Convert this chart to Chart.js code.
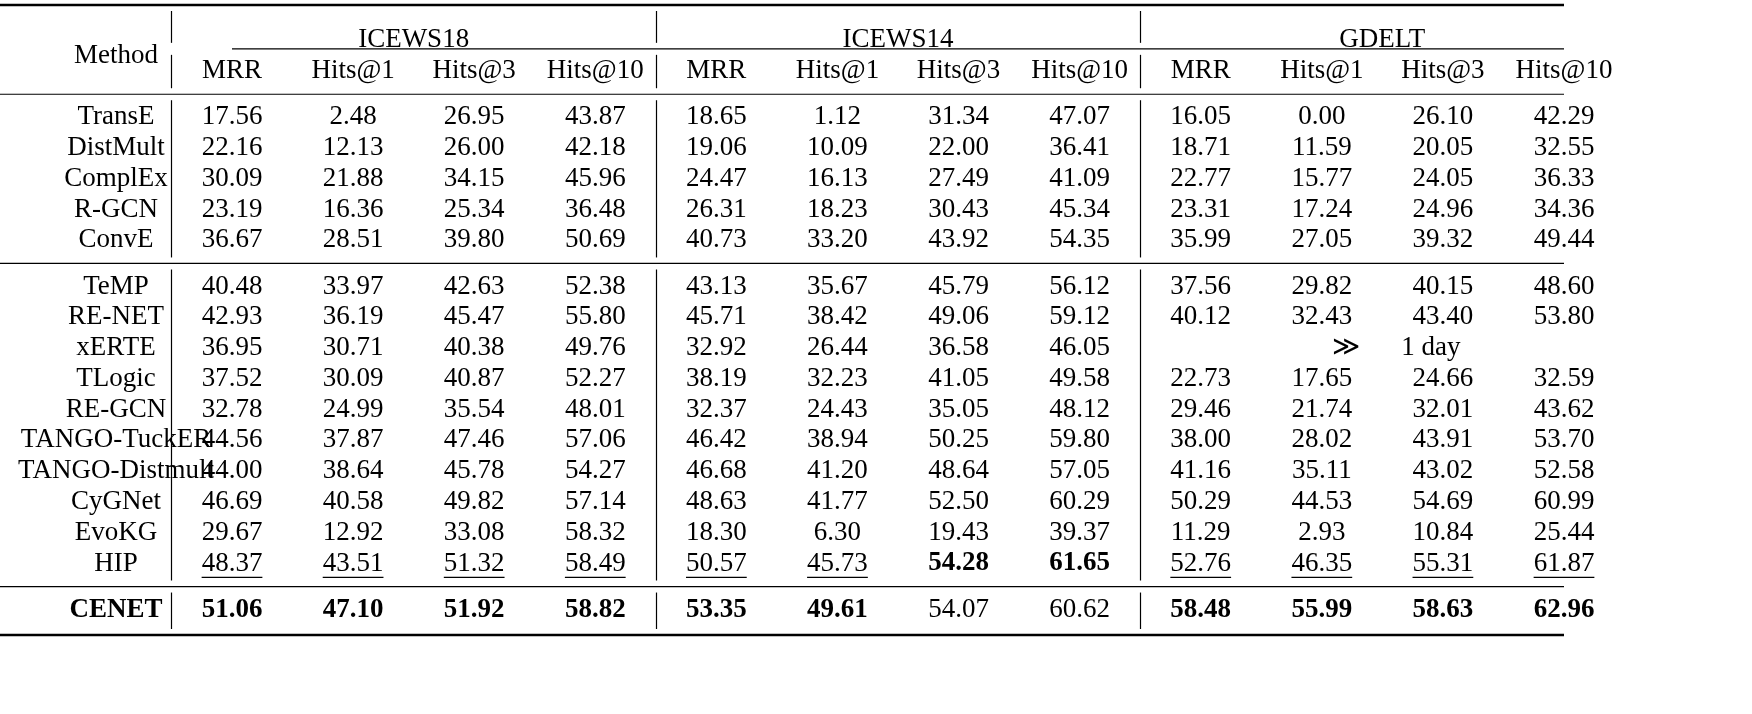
<!DOCTYPE html>
<html>
<head>
<meta charset="utf-8">
<script src="https://cdn.jsdelivr.net/npm/chart.js@4"></script>
<style>
  body { margin: 0; background: #fff; }
  #wrap { width: 1752px; height: 714px; }
</style>
</head>
<body>
<div id="wrap"><canvas id="tbl" width="1752" height="714"></canvas></div>
<script>
// datasets en metrieken
const groups = ['ICEWS18', 'ICEWS14', 'GDELT'];
const metrics = ['MRR', 'Hits@1', 'Hits@3', 'Hits@10'];

// methodes (blok 1 = statisch, blok 2 = temporeel)
const staticMethods = ['TransE', 'DistMult', 'ComplEx', 'R-GCN', 'ConvE'];
const temporalMethods = ['TeMP', 'RE-NET', 'xERTE', 'TLogic', 'RE-GCN', 'TANGO-TuckER',
  'TANGO-Distmult', 'CyGNet', 'EvoKG', 'HIP'];
const ourMethod = 'CENET';

// waarden per methode: ICEWS18 (4), ICEWS14 (4), GDELT (4)
const TransE = [17.56, 2.48, 26.95, 43.87, 18.65, 1.12, 31.34, 47.07, 16.05, 0.00, 26.10, 42.29];
const DistMult = [22.16, 12.13, 26.00, 42.18, 19.06, 10.09, 22.00, 36.41, 18.71, 11.59, 20.05, 32.55];
const ComplEx = [30.09, 21.88, 34.15, 45.96, 24.47, 16.13, 27.49, 41.09, 22.77, 15.77, 24.05, 36.33];
const RGCN = [23.19, 16.36, 25.34, 36.48, 26.31, 18.23, 30.43, 45.34, 23.31, 17.24, 24.96, 34.36];
const ConvE = [36.67, 28.51, 39.80, 50.69, 40.73, 33.20, 43.92, 54.35, 35.99, 27.05, 39.32, 49.44];
const TeMP = [40.48, 33.97, 42.63, 52.38, 43.13, 35.67, 45.79, 56.12, 37.56, 29.82, 40.15, 48.60];
const RENET = [42.93, 36.19, 45.47, 55.80, 45.71, 38.42, 49.06, 59.12, 40.12, 32.43, 43.40, 53.80];
const xERTE = [36.95, 30.71, 40.38, 49.76, 32.92, 26.44, 36.58, 46.05, null, null, null, null];
const TLogic = [37.52, 30.09, 40.87, 52.27, 38.19, 32.23, 41.05, 49.58, 22.73, 17.65, 24.66, 32.59];
const REGCN = [32.78, 24.99, 35.54, 48.01, 32.37, 24.43, 35.05, 48.12, 29.46, 21.74, 32.01, 43.62];
const TangoTuckER = [44.56, 37.87, 47.46, 57.06, 46.42, 38.94, 50.25, 59.80, 38.00, 28.02, 43.91, 53.70];
const TangoDistmult = [44.00, 38.64, 45.78, 54.27, 46.68, 41.20, 48.64, 57.05, 41.16, 35.11, 43.02, 52.58];
const CyGNet = [46.69, 40.58, 49.82, 57.14, 48.63, 41.77, 52.50, 60.29, 50.29, 44.53, 54.69, 60.99];
const EvoKG = [29.67, 12.92, 33.08, 58.32, 18.30, 6.30, 19.43, 39.37, 11.29, 2.93, 10.84, 25.44];
const HIP = [48.37, 43.51, 51.32, 58.49, 50.57, 45.73, 54.28, 61.65, 52.76, 46.35, 55.31, 61.87];
const CENET = [51.06, 47.10, 51.92, 58.82, 53.35, 49.61, 54.07, 60.62, 58.48, 55.99, 58.63, 62.96];

// markeringen: b = vet, u = onderstreept
const HIPStyle = ['u', 'u', 'u', 'u', 'u', 'u', 'b', 'b', 'u', 'u', 'u', 'u'];
const CENETStyle = ['b', 'b', 'b', 'b', 'b', 'b', '', '', 'b', 'b', 'b', 'b'];
const xERTENote = ['≫', '1 day'];

const values = {
  'TransE': TransE, 'DistMult': DistMult, 'ComplEx': ComplEx, 'R-GCN': RGCN, 'ConvE': ConvE,
  'TeMP': TeMP, 'RE-NET': RENET, 'xERTE': xERTE, 'TLogic': TLogic, 'RE-GCN': REGCN,
  'TANGO-TuckER': TangoTuckER, 'TANGO-Distmult': TangoDistmult, 'CyGNet': CyGNet,
  'EvoKG': EvoKG, 'HIP': HIP, 'CENET': CENET
};
const styles = { 'HIP': HIPStyle, 'CENET': CENETStyle };

// kolommen
const cols = [];
groups.forEach(g => metrics.forEach(m => cols.push(g + ' ' + m)));

// rijen in halve eenheden: elke rij = 2 labels ('~naam' en 'naam'), scheiding = 1 label
const blocks = [['h1'], ['h2'], staticMethods, temporalMethods, [ourMethod]];
const rows = [];
const blockEdges = []; // labels van scheidingsregels
blocks.forEach((b, k) => {
  if (k > 1) { rows.push('gap' + k); blockEdges.push('gap' + k); }
  b.forEach(r => { rows.push('~' + r); rows.push(r); });
});

const cells = [];
rows.forEach(r => {
  if (!values[r]) return;
  values[r].forEach((v, i) => cells.push({ x: cols[i], y: r, v: v, s: (styles[r] || [])[i] || '' }));
});

const FONT = '"Liberation Serif", "DejaVu Serif", serif';
const SIZE = 27;

const tablePlugin = {
  id: 'tablePlugin',
  afterDatasetsDraw(chart) {
    const ctx = chart.ctx;
    const xs = chart.scales.x, ys = chart.scales.y;
    const a = chart.chartArea;
    const colW = xs.getPixelForValue(1) - xs.getPixelForValue(0);
    const half = ys.getPixelForValue(1) - ys.getPixelForValue(0);
    const rowY = r => ys.getPixelForValue(rows.indexOf(r)) - half / 2;
    ctx.save();
    ctx.fillStyle = '#000';
    ctx.strokeStyle = '#000';
    ctx.textAlign = 'center';
    ctx.textBaseline = 'middle';

    // cellen
    chart.getDatasetMeta(0).data.forEach((el, i) => {
      const c = cells[i];
      if (c.v === null) return;
      const y = el.y - half / 2;
      const txt = c.v.toFixed(2);
      ctx.font = (c.s === 'b' ? 'bold ' : '') + SIZE + 'px ' + FONT;
      ctx.fillText(txt, el.x, y);
      if (c.s === 'u') {
        const w = ctx.measureText(txt).width;
        ctx.lineWidth = 1.3;
        ctx.beginPath();
        ctx.moveTo(el.x - w / 2, y + 14);
        ctx.lineTo(el.x + w / 2, y + 14);
        ctx.stroke();
      }
    });

    // methode-kolom
    const mx = a.left / 2;
    rows.forEach(r => {
      if (!values[r]) return;
      ctx.font = (r === ourMethod ? 'bold ' : '') + SIZE + 'px ' + FONT;
      ctx.fillText(r, mx, rowY(r));
    });
    ctx.font = SIZE + 'px ' + FONT;
    ctx.fillText('Method', mx, (rowY('h1') + rowY('h2')) / 2);

    // xERTE op GDELT
    const xr = rowY('xERTE');
    ctx.fillText(xERTENote[0], xs.getPixelForValue(9) + colW * 0.2, xr);
    ctx.fillText(xERTENote[1], xs.getPixelForValue(10) - colW * 0.1, xr);

    // koppen
    groups.forEach((g, k) => {
      const x0 = xs.getPixelForValue(k * 4) - colW / 2;
      ctx.fillText(g, x0 + colW * 2, rowY('h1'));
    });
    cols.forEach((c, i) => ctx.fillText(metrics[i % 4], xs.getPixelForValue(i), rowY('h2')));

    // horizontale lijnen
    const hline = (y, x0, x1, w) => {
      ctx.lineWidth = w;
      ctx.beginPath(); ctx.moveTo(x0, y); ctx.lineTo(x1, y); ctx.stroke();
    };
    const topY = a.top - 20, botY = a.bottom + 10;
    const midHead = rowY('h1') + half * 0.55;
    hline(topY, 0, a.right, 2.5);
    hline(botY, 0, a.right, 2.5);
    hline(midHead, a.left, a.right, 1.2);
    const edges = blockEdges.map(g => ys.getPixelForValue(rows.indexOf(g)));
    edges.forEach(y => hline(y, 0, a.right, 1.2));

    // verticale lijnen per blok
    const spans = [[topY, midHead], [midHead, edges[0]], [edges[0], edges[1]], [edges[1], edges[2]], [edges[2], botY]];
    ctx.lineWidth = 1.2;
    groups.forEach((g, k) => {
      const x = Math.round(xs.getPixelForValue(k * 4) - colW / 2) + 0.5;
      spans.forEach(([y0, y1]) => {
        ctx.beginPath(); ctx.moveTo(x, y0 + 6); ctx.lineTo(x, y1 - 6); ctx.stroke();
      });
    });
    ctx.restore();
  }
};

new Chart(document.getElementById('tbl'), {
  type: 'scatter',
  data: {
    datasets: [{ data: cells, pointRadius: 0, pointHoverRadius: 0 }]
  },
  options: {
    responsive: false,
    animation: false,
    layout: { padding: { left: 232, right: 188, top: 25, bottom: 89 } },
    plugins: { legend: { display: false }, tooltip: { enabled: false } },
    scales: {
      x: { type: 'category', labels: cols, offset: false, display: false,
           afterFit: s => {}, min: undefined },
      y: { type: 'category', labels: rows, offset: true, display: false }
    }
  },
  plugins: [tablePlugin]
});
</script>
</body>
</html>
